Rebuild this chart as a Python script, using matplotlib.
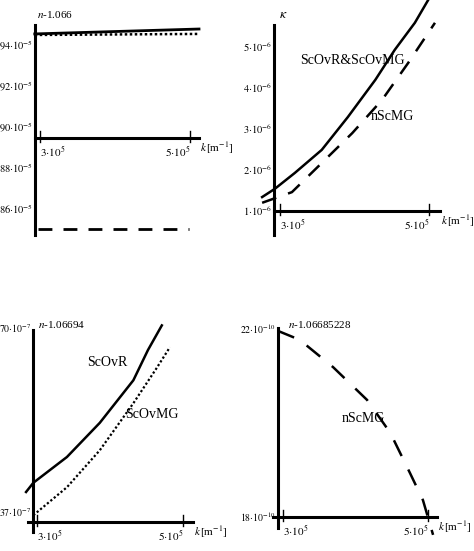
import matplotlib
matplotlib.use("Agg")
import matplotlib.pyplot as plt

plt.rcParams['font.family'] = ['Liberation Serif', 'DejaVu Serif']
plt.rcParams['mathtext.fontset'] = 'stix'

W, H = 474, 551
fig = plt.figure(figsize=(W/100, H/100), dpi=100)

# ---- data ----
p1_k = [2.93, 5.12]
p1_solid = [94.54, 94.78]
p1_dotted = [94.49, 94.54]
p1_dash_k = [2.97, 4.99]
p1_dash = [85.02, 85.02]
p1_yticks = [94, 92, 90, 88, 86]

p2_k_solid = [2.76, 2.93, 3.20, 3.56, 3.91, 4.28, 4.54, 4.81, 4.99]
p2_solid = [1.34, 1.54, 1.93, 2.49, 3.29, 4.20, 4.93, 5.59, 6.15]
p2_k_dash = [2.76, 3.16, 3.56, 3.97, 4.37, 4.72, 5.08]
p2_dash = [1.20, 1.46, 2.17, 2.90, 3.71, 4.61, 5.59]
p2_yticks = [1, 2, 3, 4, 5]

p3_k_solid = [2.85, 2.95, 3.41, 3.86, 4.32, 4.52, 4.71]
p3_solid = [40.75, 42.4, 47.0, 53.1, 60.7, 66.1, 70.5]
p3_k_dot = [2.95, 3.41, 3.86, 4.32, 4.64, 4.82]
p3_dot = [36.6, 41.6, 48.2, 56.6, 62.9, 66.6]
p3_yticks = [70, 37]

p4_k = [2.93, 3.23, 3.69, 4.16, 4.48, 4.75, 4.93, 5.07]
p4_dash = [21.96, 21.77, 21.19, 20.49, 19.79, 18.94, 18.36, 17.62]
p4_yticks = [22, 18]

def make_ax(box, kx0, kpx0, kscale, vy0, vpy0, vscale):
    L, T, R, B = box
    ax = fig.add_axes([L/W, 1-B/H, (R-L)/W, (B-T)/H])
    ax.set_xlim(kx0 + (L-kpx0)/kscale, kx0 + (R-kpx0)/kscale)
    ax.set_ylim(vy0 + (vpy0-B)/vscale, vy0 + (vpy0-T)/vscale)
    ax.axis('off')
    kx = lambda px: kx0 + (px-kpx0)/kscale
    vy = lambda py: vy0 + (vpy0-py)/vscale
    return ax, kx, vy

def frame(ax, kx, vy, vx_px, vtop, vbot, hy_px, hl, hr, tick3, tick5):
    ax.plot([kx(vx_px)]*2, [vy(vtop), vy(vbot)], color='k', lw=2.2, clip_on=False)
    ax.plot([kx(hl), kx(hr)], [vy(hy_px)]*2, color='k', lw=2.2, clip_on=False)
    for t in (tick3, tick5):
        ax.plot([kx(t)]*2, [vy(hy_px-7), vy(hy_px+4)], color='k', lw=1, clip_on=False)
    ax.text(kx(tick3), vy(hy_px+6), r'$3{\cdot}10^5$', fontsize=8, ha='left', va='top')
    ax.text(kx(tick5), vy(hy_px+6), r'$5{\cdot}10^5$', fontsize=8, ha='right', va='top')
    ax.text(kx(hr)+0.01, vy(hy_px+10), r'$k\,$[m$^{-1}$]', fontsize=8, ha='left', va='center')

# Panel 1
ax, kx, vy = make_ax((0, 15, 215, 245), 3, 40, 75, 94, 45, 20.5)
frame(ax, kx, vy, 35, 25, 235, 138, 35, 199, 40, 190)
ax.plot(p1_k, p1_solid, color='k', lw=2)
ax.plot(p1_k, p1_dotted, color='k', lw=1.8, ls=(0, (1, 1)))
ax.plot(p1_dash_k, p1_dash, color='k', lw=2, ls=(0, (5, 4)))
for v in p1_yticks:
    ax.text(kx(33), v, r'$%d{\cdot}10^{-5}$' % v, fontsize=7.5, ha='right', va='center')
ax.text(kx(37), vy(15), r'$n$-1.066', fontsize=8, ha='left', va='center')

# Panel 2
ax, kx, vy = make_ax((240, 0, 450, 240), 3, 280, 74.5, 1, 211, 41)
frame(ax, kx, vy, 274, 25, 235, 211, 274, 440, 280, 429)
ax.plot(p2_k_solid, p2_solid, color='k', lw=1.8, clip_on=False)
ax.plot(p2_k_dash, p2_dash, color='k', lw=1.8, ls=(0, (6, 5)))
for v in p2_yticks:
    ax.text(kx(272), vy(211) + (v-1), r'$%d{\cdot}10^{-6}$' % v, fontsize=7.5, ha='right', va='center')
ax.text(kx(279), vy(15), r'$\kappa$', fontsize=10, ha='left', va='center')
ax.text(kx(352), vy(60), 'ScOvR&ScOvMG', fontsize=10, ha='center', va='center')
ax.text(kx(392), vy(117), 'nScMG', fontsize=10, ha='center', va='center')

# Panel 3
ax, kx, vy = make_ax((0, 310, 210, 545), 3, 37, 73, 37, 513, 5.6)
frame(ax, kx, vy, 33, 330, 532, 522, 28, 193, 37, 183)
ax.plot(p3_k_solid, p3_solid, color='k', lw=1.8)
ax.plot(p3_k_dot, p3_dot, color='k', lw=1.6, ls=(0, (1, 1)))
for v in p3_yticks:
    ax.text(kx(31), v, r'$%d{\cdot}10^{-7}$' % v, fontsize=7, ha='right', va='center')
ax.text(kx(38), vy(324), r'$n$-1.06694', fontsize=8, ha='left', va='center')
ax.text(kx(107), vy(362), 'ScOvR', fontsize=10, ha='center', va='center')
ax.text(kx(152), vy(415), 'ScOvMG', fontsize=10, ha='center', va='center')

# Panel 4
ax, kx, vy = make_ax((240, 310, 460, 545), 3, 283, 72.5, 18, 517, 47)
frame(ax, kx, vy, 278, 328, 528, 517, 273, 437, 283, 428)
ax.plot(p4_k, p4_dash, color='k', lw=1.8, ls=(0, (7, 6)), clip_on=False)
for v in p4_yticks:
    ax.text(kx(276), v, r'$%d{\cdot}10^{-10}$' % v, fontsize=7, ha='right', va='center')
ax.text(kx(288), vy(324), r'$n$-1.06685228', fontsize=8, ha='left', va='center')
ax.text(kx(363), vy(418), 'nScMG', fontsize=10, ha='center', va='center')

fig.savefig('out.png', dpi=100)
